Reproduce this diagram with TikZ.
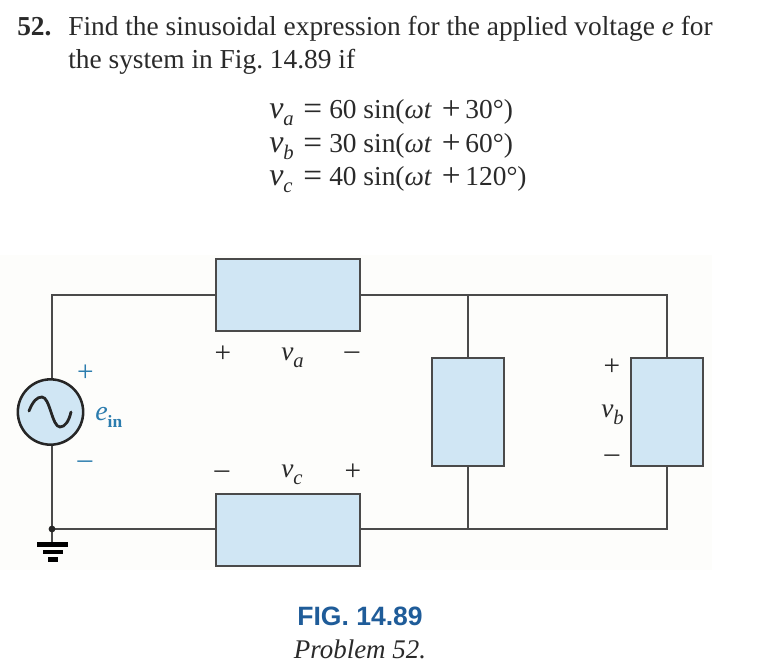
\documentclass[tikz,border=0pt]{standalone}
\usepackage{fontspec}
\setmainfont{Liberation Serif}
\newfontfamily\capfont{Liberation Sans}
\definecolor{boxblue}{HTML}{D0E6F4}
\definecolor{wirec}{HTML}{4A4A4A}
\definecolor{inkc}{HTML}{2A2A2A}
\definecolor{srcblue}{HTML}{2B7CAE}
\definecolor{capblue}{HTML}{1F5C99}
\definecolor{panelc}{HTML}{FDFDFB}
\tikzset{
 wire/.style={draw=wirec,line width=1.4pt},
 element/.style={draw=wirec,fill=boxblue,line width=1.5pt,inner sep=0pt,minimum width=#1},
 body/.style={text=inkc,font=\frenchspacing\fontsize{20.55}{24}\selectfont,inner sep=0pt},
 eqn/.style={body,anchor=base west},
 lab/.style={text=inkc,font=\fontsize{20.5}{24}\selectfont\itshape,inner sep=0pt},
 sgn/.style={text=inkc,font=\fontsize{22}{24}\selectfont,inner sep=0pt},
 bsgn/.style={text=srcblue,font=\fontsize{22}{24}\selectfont,inner sep=0pt},
 gbar/.style={draw=black,line width=#1},
}
\newcommand{\vsub}[1]{v\raisebox{-0.26em}{\fontsize{15.5}{17}\selectfont #1}}
\newcommand{\bigsym}[1]{\raisebox{-0.04em}{\fontsize{25}{27}\selectfont #1}}
\newcommand{\eqline}[3]{\makebox[25.5pt][l]{{\fontsize{24}{26}\selectfont\itshape v\raisebox{-0.24em}{\fontsize{15.5}{17}\selectfont #1}}}\makebox[19.5pt][l]{\bigsym{=}}\makebox[84.5pt][l]{#2 sin(\textit{ωt}}\makebox[17.6pt][l]{\bigsym{+}}#3}
\begin{document}
\begin{tikzpicture}[x=0.75pt,y=-0.75pt]
\useasboundingbox (0,0) rectangle (761,669);
\fill[white] (0,0) rectangle (761,669);
\fill[panelc] (0,255) rectangle (712,570);
% text
\node[eqn] (num) at (17,35) {\textbf{52.}};
\node[eqn] (l1) at (68,35) {Find the sinusoidal expression for the applied voltage \textit{e} for};
\node[eqn] (l2) at (68,68) {the system in Fig. 14.89 if};
\node[eqn] (ea) at (269,118) {\eqline{a}{60}{30°)}};
\node[eqn] (eb) at (269,152) {\eqline{b}{30}{60°)}};
\node[eqn] (ec) at (269,185) {\eqline{c}{40}{120°)}};
% junction and corner points
\coordinate (tl) at (52,295);
\coordinate (tm) at (468,295);
\coordinate (tr) at (667,295);
\coordinate (bl) at (52,529);
\coordinate (bm) at (468,529);
\coordinate (br) at (667,529);
\coordinate (gt) at (52,544);
% elements
\node[element=108pt,minimum height=54pt] (A) at (288,295) {};
\node[element=108pt,minimum height=54pt] (C) at (288,530) {};
\node[element=54pt,minimum height=81pt] (M) at (468,412) {};
\node[element=54pt,minimum height=81pt] (R) at (667,412) {};
\node[circle,draw=black!85,fill=boxblue,line width=1.9pt,minimum size=49pt,inner sep=0pt] (S) at (50.5,412) {};
% wires
\draw[wire] (tl |- S.north) -- (tl) -- (A.west);
\draw[wire] (A.east) -- (tr) -- (R.north);
\draw[wire] (tm) -- (M.north);
\draw[wire] (M.south) -- (bm);
\draw[wire] (R.south) -- (br) -- (C.east |- br);
\draw[wire] (C.west |- bl) -- (bl) -- (tl |- S.south);
\draw[wire] (bl) -- (gt);
\fill[black!85] (bl) circle (3.4);
% ground
\draw[gbar=3.3pt] (37,544.5) -- (68,544.5);
\draw[gbar=3.3pt] (43,552) -- (63,552);
\draw[gbar=3.3pt] (48,559.5) -- (58,559.5);
% sine
\draw[black!85,line width=2.1pt,line cap=round] (29,411) .. controls (33,401) and (37,397) .. (42,397) .. controls (50,397) and (52,427) .. (60,427) .. controls (65,427) and (69,421) .. (71,412);
% labels
\node[bsgn] (sp) at (85.5,373) {+};
\node[bsgn] (sm) at (85,465) {–};
\node[text=srcblue,font=\fontsize{21}{24}\selectfont\itshape,inner sep=0pt,anchor=base west] (se) at (95,420) {e\raisebox{-0.26em}{\fontsize{13}{15}\selectfont\upshape\bfseries in}};
\node[sgn] (ap) at (223,354) {+};
\node[sgn] (am) at (352,356) {–};
\node[lab,anchor=base west] (av) at (281,360) {\vsub{a}};
\node[sgn] (cm) at (222,475) {–};
\node[sgn] (cp) at (353,472) {+};
\node[lab,anchor=base west] (cv) at (281,477) {\vsub{c}};
\node[sgn] (bp) at (612,367) {+};
\node[lab,anchor=base west] (bv) at (601,417) {\vsub{b}};
\node[sgn] (bm2) at (612,459) {–};
% caption
\node[anchor=base,text=capblue,font=\capfont\bfseries\fontsize{19.9}{24}\selectfont,inner sep=0pt] (f1) at (360,625) {FIG. 14.89};
\node[anchor=base,text=inkc,font=\itshape\fontsize{20.2}{24}\selectfont,inner sep=0pt] (f2) at (360,658) {Problem 52.};
\end{tikzpicture}
\end{document}
